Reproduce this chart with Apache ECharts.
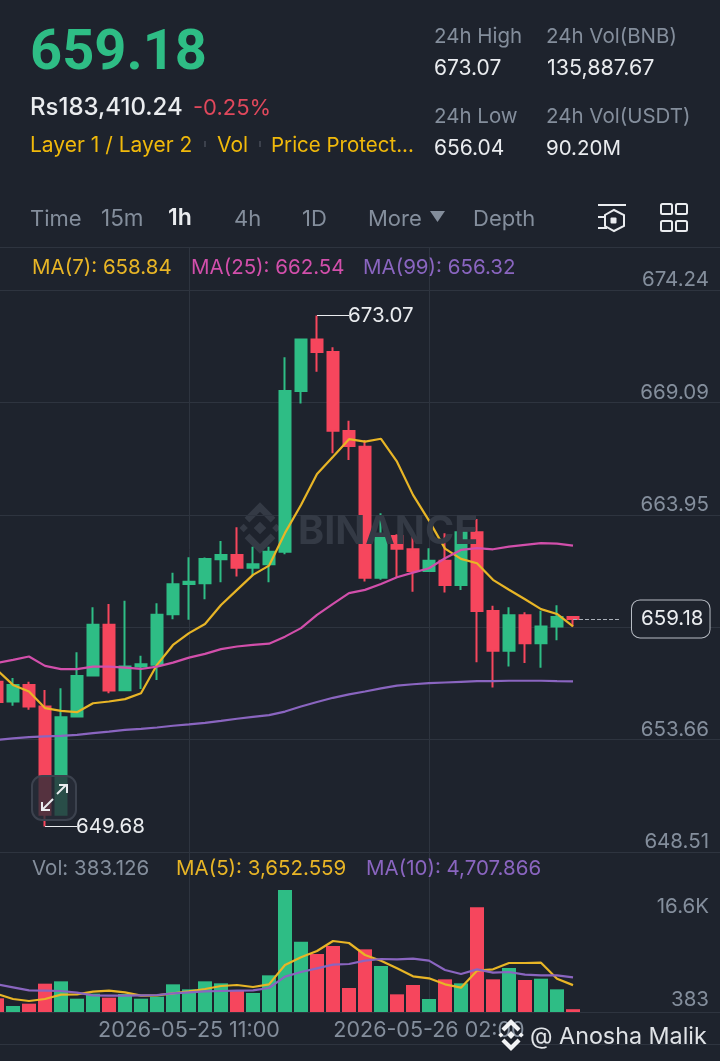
<!DOCTYPE html>
<html><head><meta charset="utf-8">
<style>html,body{margin:0;padding:0;background:#1e232d}#c{width:720px;height:1061px}</style>
<script src="https://cdn.jsdelivr.net/npm/echarts@6/dist/echarts.min.js"></script>
</head><body><div id="c"></div>
<script>
// [open, close, low, high]
const candles = [
[656.30,655.38,655.20,656.48],[655.40,656.16,655.21,656.48],[656.16,655.17,655.02,656.30],[655.17,650.21,649.68,655.93],
[650.21,654.68,650.21,656.01],[654.71,656.57,654.71,657.66],[656.59,658.91,656.59,659.72],[658.92,655.90,655.78,659.87],
[655.92,657.00,655.92,660.01],[657.00,657.11,655.97,657.49],[657.08,659.37,656.39,659.90],[659.40,660.77,659.17,661.30],
[660.78,660.88,659.14,662.01],[660.82,661.93,660.08,661.99],[661.91,662.11,660.86,662.75],[662.11,661.53,661.12,663.38],
[661.53,661.69,661.15,662.49],[661.69,662.26,660.86,662.49],[662.26,669.62,662.14,671.16],[669.62,671.97,669.05,671.97],
[671.98,671.40,670.50,673.07],[671.40,667.80,666.77,671.62],[667.79,667.10,666.46,668.26],[667.07,661.07,660.89,667.37],
[661.07,662.98,660.97,664.02],[662.98,662.39,661.07,663.06],[662.37,661.38,660.43,663.00],[661.38,661.84,661.38,662.42],
[661.84,660.73,660.39,663.10],[660.73,663.15,660.51,663.29],[663.15,659.54,657.20,663.76],[659.54,657.72,656.04,659.79],
[657.72,659.35,657.00,659.72],[659.35,658.07,657.16,659.49],[658.07,658.83,656.95,659.56],[658.83,659.27,658.21,659.81],
[659.27,659.18,658.83,659.27]];
const ma7 = [656.85,656.16,655.86,655.10,654.97,654.91,655.32,655.40,655.51,655.78,657.08,657.99,658.53,658.95,659.82,660.51,661.20,661.62,663.12,664.40,665.82,666.61,667.41,667.30,667.43,666.38,664.86,663.68,662.40,661.93,661.73,660.97,660.52,660.08,659.63,659.41,658.84];
const ma25 = [657.17,657.31,657.46,657.03,656.88,656.88,657.00,657.00,656.95,656.89,657.00,657.18,657.41,657.58,657.80,657.92,657.99,658.05,658.37,658.76,659.37,659.87,660.36,660.51,660.78,661.09,661.30,661.50,661.96,662.34,662.42,662.37,662.49,662.57,662.65,662.63,662.54];
const ma99 = [653.64,653.71,653.77,653.80,653.83,653.87,653.95,654.02,654.10,654.15,654.21,654.29,654.35,654.42,654.51,654.61,654.70,654.78,654.94,655.17,655.38,655.57,655.73,655.86,656.00,656.13,656.19,656.24,656.27,656.30,656.33,656.33,656.35,656.35,656.35,656.33,656.32];
const volumes = [1859,816,1133,3853,4171,1813,2493,1949,2448,1813,2085,3763,3083,4171,3899,2992,2584,4987,16600,9565,7888,8976,3264,8523,6256,2403,3672,1768,4443,3899,14235,4443,5984,4352,4533,3083,383.126];
const volMa5 = [2448,1768,1496,1768,2357,2403,2765,2901,2675,2221,2267,2539,2811,3128,3536,3672,3400,3763,6392,7435,8296,9656,9384,7752,6981,5939,4851,4579,3763,3309,5621,5803,6664,6664,6709,4533,3652.559];
const volMa10 = [3763,3355,2947,2901,2856,2629,2267,2221,2221,2267,2312,2539,2675,2811,2856,2901,2947,3264,4805,5440,5939,6437,6528,6981,7208,7163,7253,6981,5712,5168,5803,5349,5440,5077,4987,4987,4707.866];
const priceTicks = [674.24,669.09,663.95,658.80,653.66,648.51];
const priceLabels = [674.24,669.09,663.95,653.66,648.51];
const volTicks = [16600,383];
const timeLabels = {12:'2026-05-25 11:00',27:'2026-05-26 02:00'};
const categories = Array.from({length:46},(_,i)=>timeLabels[i]||('h'+i));
const high = {k:20,v:673.07}, low = {k:3,v:649.68}, last = 659.18;

const BG='#1e232d',GREEN='#2ebd85',RED='#f6465d',YEL='#f0b90b',MAY='#e8b526',PINK='#d24fab',PUR='#8a65c0',GREY='#848e9c',LGREY='#eaecef',GRID='#2e343f';
const F='Inter, sans-serif';
const T=(text,x,y,fill,size,extra)=>({type:'text',z:extra&&extra.z||50,style:{text,x,y:y+2,fill,font:(extra&&extra.weight||400)+' '+size+'px '+(extra&&extra.family||F),textVerticalAlign:'middle',textAlign:'left'}});
const L=(x1,y1,x2,y2,stroke,w,z)=>({type:'line',z:z||50,shape:{x1,y1,x2,y2},style:{stroke,lineWidth:w||1}});
const logo=(cx,cy,s,fill,z)=>{const d=(x,y,r)=>({type:'polygon',z,shape:{points:[[cx+x*s,cy+y*s-r*s],[cx+x*s+r*s,cy+y*s],[cx+x*s,cy+y*s+r*s],[cx+x*s-r*s,cy+y*s]]},style:{fill}});
 const chev=(dir)=>({type:'polyline',z,shape:{points:[[cx-.62*s,cy+dir*.38*s],[cx,cy+dir*1.0*s],[cx+.62*s,cy+dir*.38*s]]},style:{stroke:fill,fill:null,lineWidth:.32*s}});
 return [d(0,0,.3),d(-.78,0,.2),d(.78,0,.2),chev(1),chev(-1)];};

const graphics=[
 ...logo(260,528,21,'#343a45',0),
 T('BINANCE',298,530,'#343a45',39.5,{weight:700,z:0}),
 T('659.18',30,53,GREEN,56,{weight:700,family:'Roboto, sans-serif'}),
 T('Rs183,410.24',30,106,LGREY,24,{weight:500}),
 T('-0.25%',193,106,'#e0485c',22),
 T('Layer 1 / Layer 2',30,144,YEL,21),L(205,141,205,147,'#474d57',1.5),
 T('Vol',217,144,YEL,21),L(260,141,260,147,'#474d57',1.5),
 T('Price Protect...',271,144,YEL,20.5),
 T('24h High',434,35,GREY,20.5),T('24h Vol(BNB)',546,35,GREY,20.5),
 T('673.07',434,67,LGREY,21),T('135,887.67',547,67,LGREY,21.5),
 T('24h Low',434,115,GREY,20.5),T('24h Vol(USDT)',546,115,GREY,20.5),
 T('656.04',434,147,LGREY,21),T('90.20M',546,147,LGREY,20.5),
 T('Time',30,217,GREY,22),T('15m',101,217,GREY,22.5),T('1h',168,216,LGREY,23,{weight:600}),
 T('4h',234,217,GREY,22),T('1D',302,217,GREY,22),T('More',368,217,GREY,22),
 {type:'polygon',z:50,shape:{points:[[430,211],[445,211],[437.5,222]]},style:{fill:GREY}},
 T('Depth',473,217,GREY,22),
 L(598,205,626,205,LGREY,2),L(598,217,607,217,LGREY,2),L(598,228,607,228,LGREY,2),
 {type:'polygon',z:50,shape:{points:[[614,210],[624,215],[624,226],[614,231],[605,226],[605,215]]},style:{stroke:LGREY,fill:BG,lineWidth:2}},
 {type:'rect',z:51,shape:{x:610.5,y:217.5,width:6,height:6,r:1},style:{fill:LGREY}},
 ...[[661,204],[676,204],[661,221],[676,221]].map(([x,y])=>({type:'rect',z:50,shape:{x,y,width:11,height:10,r:1.5},style:{stroke:LGREY,fill:null,lineWidth:2}})),
 L(0,247.5,720,247.5,GRID),L(0,1044.5,720,1044.5,GRID),
 T('MA(7): 658.84',32,266,MAY,20.5),T('MA(25): 662.54',191,266,PINK,20.5),T('MA(99): 656.32',363,266,PUR,20.5),
 T('Vol: 383.126',32,867,GREY,20.5),T('MA(5): 3,652.559',176,867,MAY,20.5),T('MA(10): 4,707.866',366,867,PUR,20.5),
 {type:'rect',z:60,shape:{x:32,y:776,width:44,height:44,r:10},style:{fill:'rgba(40,45,55,.78)',stroke:'#3c424e',lineWidth:2}},
 L(43,809,53,799,LGREY,2,61),{type:'polyline',z:61,shape:{points:[[42,802],[42,810],[50,810]]},style:{stroke:LGREY,fill:null,lineWidth:2}},
 L(57,794,66,785,LGREY,2,61),{type:'polyline',z:61,shape:{points:[[59,785],[67,785],[67,793]]},style:{stroke:LGREY,fill:null,lineWidth:2}},
 ...logo(511,1035,13,'#f2f3f5',70),
 T('@ Anosha Malik',530,1035,'#dfe2e6',23.3,{z:70})
];

const opt={
 backgroundColor:BG,animation:false,
 grid:[{left:-11,top:247,width:736,height:605,outerBoundsMode:'none'},{left:-11,top:852,width:736,height:160,outerBoundsMode:'none'}],
 xAxis:[0,1].map(i=>({type:'category',gridIndex:i,data:categories,boundaryGap:true,
   axisLine:{show:i===1,lineStyle:{color:GRID}},axisTick:{show:false},
   axisLabel:{show:i===1,interval:(idx)=>!!timeLabels[idx],formatter:v=>v,color:GREY,fontFamily:F,fontSize:21.5,margin:8},
   splitLine:{show:true,alignWithLabel:true,interval:(idx)=>!!timeLabels[idx],lineStyle:{color:GRID,width:1}}})),
 yAxis:[
  {type:'value',gridIndex:0,position:'right',min:648.51,max:676.21,scale:true,
   axisLine:{show:false},axisTick:{show:false,customValues:priceTicks},
   axisLabel:{inside:true,margin:16,color:GREY,fontFamily:F,fontSize:20.5,verticalAlign:'bottom',lineHeight:20,customValues:priceLabels,formatter:v=>v.toFixed(2),showMinLabel:true,showMaxLabel:true,hideOverlap:false},
   splitLine:{show:true,lineStyle:{color:GRID,width:1}}},
  {type:'value',gridIndex:1,position:'right',min:0,max:21760,
   axisLine:{show:false},axisTick:{show:false},
   axisLabel:{inside:true,margin:16,color:GREY,fontFamily:F,fontSize:20.5,customValues:volTicks,
     formatter:v=>v>1000?'{d|16.6K}':'{u|383}',
     rich:{d:{color:GREY,fontFamily:F,fontSize:20.5,padding:[34,0,0,0]},u:{color:GREY,fontFamily:F,fontSize:20.5,padding:[0,0,18,0]}}},
   splitLine:{show:false}}
 ],
 series:[
  {type:'candlestick',name:'Price',xAxisIndex:0,yAxisIndex:0,data:candles,barWidth:12,z:3,
   itemStyle:{color:GREEN,color0:RED,borderColor:GREEN,borderColor0:RED,borderWidth:2},
   markLine:{silent:true,symbol:'none',animation:false,precision:2,
    data:[
     [{coord:[high.k,high.v],lineStyle:{color:LGREY,width:1,type:'solid'},label:{show:true,position:'end',distance:-1,formatter:high.v.toFixed(2),color:LGREY,fontFamily:F,fontSize:20.5}},{coord:[high.k+2,high.v]}],
     [{coord:[low.k,low.v],lineStyle:{color:LGREY,width:1,type:'solid'},label:{show:true,position:'end',distance:-1,formatter:low.v.toFixed(2),color:LGREY,fontFamily:F,fontSize:20.5}},{coord:[low.k+2,low.v]}],
     [{coord:[36,last],lineStyle:{color:'#a9afb8',width:1,type:'dashed'},label:{show:true,position:'end',distance:11,formatter:last.toFixed(2),color:LGREY,fontFamily:F,fontSize:20.5,backgroundColor:BG,borderColor:'#b7bcc4',borderWidth:1,borderRadius:8,padding:[8,6,8,9]}},{coord:[39,last]}]
    ]}},
  ...[[ma7,MAY,'MA7'],[ma25,PINK,'MA25'],[ma99,PUR,'MA99']].map(([d,c,n])=>({type:'line',name:n,xAxisIndex:0,yAxisIndex:0,data:d,showSymbol:false,symbol:'none',z:4,lineStyle:{color:c,width:2.2}})),
  {type:'bar',name:'Vol',xAxisIndex:1,yAxisIndex:1,barWidth:14,z:3,
   data:volumes.map((v,i)=>({value:v,itemStyle:{color:candles[i][1]>=candles[i][0]?GREEN:RED}}))},
  ...[[volMa5,MAY,'V5'],[volMa10,PUR,'V10']].map(([d,c,n])=>({type:'line',name:n,xAxisIndex:1,yAxisIndex:1,data:d,showSymbol:false,symbol:'none',z:4,lineStyle:{color:c,width:2.2}}))
 ],
 graphic:{elements:graphics}
};
echarts.init(document.getElementById('c'),null,{renderer:'canvas'}).setOption(opt);
</script></body></html>
